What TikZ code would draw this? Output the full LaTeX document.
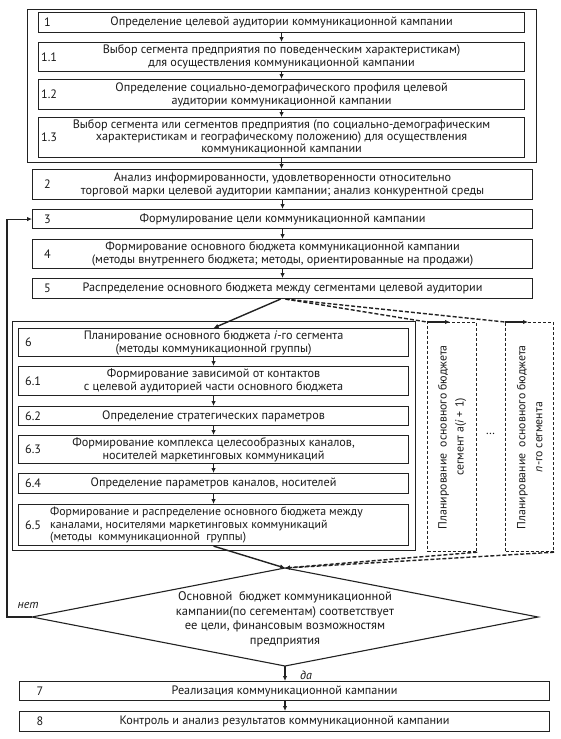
\documentclass[tikz,border=0pt]{standalone}
\usepackage{fontspec}
\setmainfont{PT Sans}
\usetikzlibrary{arrows.meta,calc}
\definecolor{linec}{HTML}{222222}
\definecolor{textc}{HTML}{1A1A1A}
\newcommand\bx[6]{\node[#6, minimum width={#4pt-#2pt}, minimum height={#5pt-#3pt}] (#1) at (#2,#3)}
\tikzset{
  box/.style={draw=linec, line width=1.1pt, rectangle, inner sep=0pt, anchor=north west,
     align=center, text=textc, font=\fontsize{12.2}{12.8}\selectfont},
  grp/.style={draw=linec, line width=1.3pt, rectangle, inner sep=0pt, anchor=north west},
  dbox/.style={draw=linec, line width=1.2pt, dash pattern=on 3pt off 2pt, rectangle, inner sep=0pt, anchor=north west},
  num/.style={anchor=west, inner sep=0pt, text=textc, font=\fontsize{12.2}{12.8}\selectfont},
  arr/.style={draw=linec, line width=1.1pt, -{Latex[length=5pt,width=4.5pt]}},
  darr/.style={draw=linec, line width=1.4pt, dash pattern=on 4pt off 2pt},
  rtxt/.style={rotate=90, align=center, inner sep=0pt, text=textc, font=\fontsize{11.8}{17}\selectfont},
  lbl/.style={inner sep=0pt, text=textc, font=\fontsize{12}{13}\selectfont\itshape},
  dshape/.style={draw=linec, line width=1.1pt, line join=miter},
}
\begin{document}
\begin{tikzpicture}[x=1pt,y=-1pt]
\useasboundingbox[fill=white] (0,0) rectangle (561,739);
% group 1
\bx{g1}{27}{9}{536}{162}{grp} {};
\bx{b1}{38}{12}{524}{32}{box} {Определение целевой аудитории коммуникационной кампании};
\bx{b11}{38}{42}{524}{71}{box} {Выбор сегмента предприятия по поведенческим характеристикам)\\для осуществления коммуникационной кампании};
\bx{b12}{38}{79}{524}{109}{box} {Определение социально-демографического профиля целевой\\аудитории коммуникационной кампании};
\bx{b13}{38}{117}{524}{157}{box, font=\fontsize{12.2}{12.2}\selectfont} {Выбор сегмента или сегментов предприятия (по социально-демографическим\\характеристикам и географическому положению) для осуществления\\коммуникационной кампании};
\node[num] (n1) at ([xshift=6pt]b1.west) {1};
\node[num] (n11) at ([xshift=3pt]b11.west) {1.1};
\node[num] (n12) at ([xshift=3pt]b12.west) {1.2};
\node[num] (n13) at ([xshift=3pt]b13.west) {1.3};
% main boxes
\bx{b2}{32}{169}{532}{199}{box} {Анализ информированности, удовлетворенности относительно\\торговой марки целевой аудитории кампании; анализ конкурентной среды};
\bx{b3}{32}{209}{532}{228}{box} {Формулирование цели коммуникационной кампании};
\bx{b4}{32}{239}{532}{268}{box} {Формирование основного бюджета коммуникационной кампании\\(методы внутреннего бюджета; методы, ориентированные на продажи)};
\bx{b5}{32}{278}{532}{298}{box} {Распределение основного бюджета между сегментами целевой аудитории};
\node[num] (n2) at ([xshift=12pt]b2.west) {2};
\node[num] (n3) at ([xshift=12pt]b3.west) {3};
\node[num] (n4) at ([xshift=12pt]b4.west) {4};
\node[num] (n5) at ([xshift=12pt]b5.west) {5};
% group 6
\bx{g6}{12}{321}{415}{550}{grp} {};
\bx{b6}{18}{328}{408}{356}{box} {Планирование основного бюджета \textit{i}-го сегмента\\(методы коммуникационной группы)};
\bx{b61}{18}{366}{408}{395}{box} {Формирование зависимой от контактов\\с целевой аудиторией части основного бюджета};
\bx{b62}{18}{406}{408}{425}{box} {Определение стратегических параметров};
\bx{b63}{18}{435}{408}{463}{box} {Формирование комплекса целесообразных каналов,\\носителей маркетинговых коммуникаций};
\bx{b64}{18}{473}{408}{493}{box} {Определение параметров каналов, носителей};
\bx{b65}{18}{504}{408}{545}{box} {};
\node[num, align=left, anchor=west, font=\fontsize{11.8}{12.6}\selectfont] (t65) at ([xshift=32pt]b65.west) {Формирование и распределение основного бюджета между\\каналами, носителями маркетинговых коммуникаций\\(методы~ коммуникационной~ группы)};
\node[num] (n6) at ([xshift=7pt]b6.west) {6};
\node[num] (n61) at ([xshift=7pt]b61.west) {6.1};
\node[num] (n62) at ([xshift=7pt]b62.west) {6.2};
\node[num] (n63) at ([xshift=7pt]b63.west) {6.3};
\node[num] (n64) at ([xshift=7pt]b64.west) {6.4};
\node[num] (n65) at ([xshift=7pt]b65.west) {6.5};
% dashed boxes
\bx{d1}{427}{322}{476}{551}{dbox} {};
\bx{d2}{505}{322}{553}{551}{dbox} {};
\node[rtxt] (r1) at (d1.center) {Планирование~ основного бюджета\\сегмент а(\textit{i} + 1)};
\node[rtxt] (r2) at (d2.center) {Планирование~ основного бюджета\\\textit{n}-го сегмента};
\node[num, anchor=center] (dots) at (490.5,434) {…};
% decision
\coordinate (diaN) at (285,568);
\coordinate (diaS) at (285,666);
\coordinate (diaW) at (32,617);
\coordinate (diaE) at (538,617);
\draw[dshape] (diaN) -- (diaE) -- (diaS) -- (diaW) -- cycle;
\node[align=center, inner sep=0pt, text=textc, font=\fontsize{12.5}{14.5}\selectfont] (dia) at (285,619)
  {Основной~ бюджет коммуникационной\\кампании(по сегементам) соответствует\\ее цели, финансовым возможностям\\предприятия};
\bx{b7}{19}{681}{549}{700}{box} {Реализация коммуникационной кампании};
\bx{b8}{19}{711}{549}{731}{box} {Контроль и анализ результатов коммуникационной кампании};
\node[num, anchor=center] (n7) at ([xshift=21pt]b7.west) {7};
\node[num, anchor=center] (n8) at ([xshift=21pt]b8.west) {8};
\node[lbl] (no) at (28,605) {нет};
\node[lbl] (yes) at (306,675) {да};
% connectors
\draw[arr] (b1.south) -- (b11.north);
\draw[arr] (b11.south) -- (b12.north);
\draw[arr] (b12.south) -- (b13.north);
\draw[arr] (b13.south) -- (b2.north -| b13.south);
\draw[arr] (b2.south) -- (b3.north);
\draw[arr] (b3.south) -- (b4.north);
\draw[arr] (b4.south) -- (b5.north);
\draw[arr, line width=1.4pt] ([xshift=-2pt]b5.south) -- (b6.north);
\draw[arr] (b6.south) -- (b61.north);
\draw[arr] (b61.south) -- (b62.north);
\draw[arr] (b62.south) -- (b63.north);
\draw[arr] (b63.south) -- (b64.north);
\draw[arr] (b64.south) -- (b65.north);
\coordinate (a1) at ([xshift=23pt]d1.north west);
\coordinate (a2) at ([xshift=23pt]d2.north west);
\draw[darr] ([xshift=3pt]b5.south) -- (d1.north west);
\draw[darr, -{Latex[length=5pt,width=4.5pt]}, solid, line width=1.1pt] (d1.north west) -- (a1);
\draw[darr] ([xshift=3pt]b5.south) -- (d2.north west);
\draw[darr, -{Latex[length=5pt,width=4.5pt]}, solid, line width=1.1pt] (d2.north west) -- (a2);
\draw[arr, line width=1.4pt] (b65.south) -- (diaN);
\draw[darr, -{Latex[length=5pt,width=4.5pt]}] (d1.south east) -- (diaN);
\draw[darr, -{Latex[length=5pt,width=4.5pt]}] (d2.south east) -- (diaN);
\coordinate (fb) at (7,617);
\draw[arr] (diaW) -- (fb) |- (b3.west);
\draw[arr] (diaS) -- (b7.north -| diaS);
\draw[arr] (b7.south -| diaS) -- (b8.north -| diaS);
\end{tikzpicture}
\end{document}
